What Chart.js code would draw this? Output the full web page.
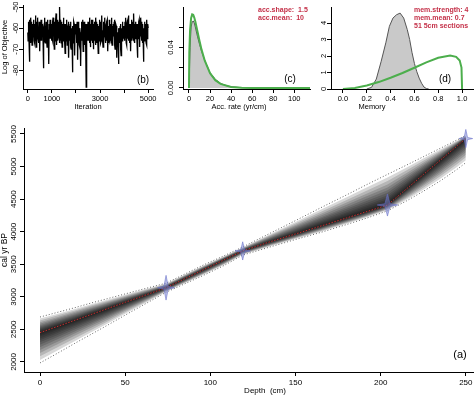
<!DOCTYPE html>
<html>
<head>
<meta charset="utf-8">
<script src="https://cdn.jsdelivr.net/npm/chart.js@4.4.1/dist/chart.umd.min.js"></script>
<style>
html, body { margin: 0; padding: 0; background: #fff; }
#wrap { position: relative; width: 474px; height: 397px; overflow: hidden; }
#wrap canvas { position: absolute; left: 0; top: 0; }
</style>
</head>
<body>
<div id="wrap">
  <canvas id="mainChart" width="474" height="397"></canvas>
  <canvas id="traceChart" width="474" height="397"></canvas>
  <canvas id="accChart" width="474" height="397"></canvas>
  <canvas id="memChart" width="474" height="397"></canvas>
</div>
<script>
// ---- (a) age-depth model ----
const depths   = [0, 10, 20, 30, 40, 50, 60, 74, 85, 96, 108, 119, 135, 150, 165, 180, 192, 204, 215, 225, 235, 245, 250];
const meanAge  = [2450, 2543, 2636, 2729, 2823, 2916, 3009, 3140, 3278, 3417, 3567, 3705, 3845, 3965, 4088, 4211, 4310, 4410, 4654, 4876, 5097, 5319, 5430];
const upperAge = [2690, 2760, 2830, 2905, 2975, 3045, 3115, 3210, 3350, 3490, 3630, 3765, 3975, 4170, 4370, 4565, 4725, 4880, 5020, 5150, 5280, 5410, 5480];
const lowerAge = [1985, 2130, 2280, 2425, 2570, 2720, 2865, 3070, 3200, 3330, 3480, 3640, 3765, 3880, 3990, 4110, 4210, 4320, 4470, 4620, 4780, 4960, 5060];

const dateDepths   = [74, 119, 204, 250];
const dateAges     = [3140, 3705, 4410, 5430];
const dateAgeErr   = [190, 140, 170, 140];
const dateDepthErr = [5, 4.5, 6, 4];

const depthTicks = [0, 50, 100, 150, 200, 250];
const ageTicks   = [2000, 2500, 3000, 3500, 4000, 4500, 5000, 5500];

// ---- (b) MCMC trace, one value every 12.5 iterations ----
const iterStep = 12.5;
const logObjective = [
  -62,-66,-57,-64,-66,-56,-76,-58,-60,-67,-55,-63,-64,-57,-68,-59,-58,-65,-61,-56,
  -56,-66,-67,-58,-63,-66,-54,-62,-69,-57,-60,-65,-58,-55,-65,-63,-62,-67,-57,-61,
  -71,-58,-60,-66,-56,-64,-66,-57,-64,-62,-58,-68,-79,-60,-61,-56,-55,-66,-67,-59,
  -63,-57,-59,-66,-69,-56,-57,-63,-62,-68,-77,-58,-60,-65,-56,-62,-65,-57,-61,-66,
  -58,-65,-66,-57,-55,-64,-63,-58,-70,-60,-57,-66,-61,-56,-53,-62,-68,-57,-60,-66,
  -56,-63,-64,-57,-59,-67,-50,-61,-66,-56,-62,-67,-57,-63,-69,-58,-61,-66,-55,-64,
  -65,-58,-60,-67,-72,-59,-58,-66,-63,-57,-56,-68,-67,-60,-61,-57,-74,-63,-59,-66,
  -64,-58,-57,-69,-70,-60,-62,-65,-81,-59,-60,-67,-66,-57,-58,-70,-73,-61,-63,-58,
  -61,-58,-67,-60,-57,-66,-75,-61,-63,-57,-59,-68,-69,-60,-62,-65,-78,-62,-60,-57,
  -66,-59,-56,-64,-71,-60,-64,-57,-61,-67,-68,-59,-58,-70,-88,-63,-65,-58,-60,-66,
  -57,-65,-66,-58,-62,-67,-55,-63,-69,-58,-60,-66,-58,-56,-64,-67,-56,-62,-70,-58,
  -61,-66,-59,-57,-65,-68,-55,-62,-67,-57,-62,-66,-58,-64,-72,-59,-60,-66,-56,-63,
  -63,-57,-58,-67,-66,-56,-54,-63,-61,-66,-69,-58,-57,-65,-62,-56,-55,-64,-67,-59,
  -60,-66,-64,-57,-56,-65,-71,-60,-59,-67,-62,-56,-57,-66,-65,-58,-60,-67,-55,-63,
  -68,-59,-61,-66,-58,-63,-64,-57,-56,-68,-70,-61,-63,-58,-59,-69,-74,-62,-62,-66,
  -66,-60,-77,-63,-60,-67,-64,-59,-58,-70,-73,-60,-62,-66,-57,-64,-66,-59,-60,-65,
  -59,-66,-65,-57,-55,-64,-62,-67,-68,-58,-57,-65,-61,-56,-54,-63,-66,-58,-60,-67,
  -58,-64,-71,-59,-62,-66,-56,-63,-64,-57,-59,-66,-53,-61,-67,-58,-61,-65,-57,-63,
  -65,-58,-60,-67,-74,-61,-58,-65,-63,-57,-56,-66,-69,-59,-61,-64,-55,-62,-66,-57,
  -62,-67,-58,-63,-76,-61,-60,-66,-57,-64,-64,-58,-59,-67,-68,-60,-56,-65,-62,-58,
  -60
];
const iterTicks = [0, 1000, 2000, 3000, 4000, 5000];
const objTicks  = [-80, -70, -60, -50];

// ---- (c) accumulation rate: posterior (grey) and prior (green) ----
const accPostX  = [0, 0.5, 1, 2, 3, 4, 5, 6, 8, 10, 12, 15, 20, 25, 30, 35, 40, 50, 60];
const accPostY  = [0, 0.02, 0.04, 0.06, 0.065, 0.066, 0.064, 0.06, 0.051, 0.043, 0.036, 0.027, 0.015, 0.0085, 0.0045, 0.0025, 0.0012, 0.0003, 0];
const accPriorX = [0, 0.3, 1, 2, 3, 4, 5, 6, 8, 10, 12, 15, 20, 25, 30, 40, 50, 60, 80, 100, 115];
const accPriorY = [0, 0.035, 0.0565, 0.0687, 0.0725, 0.072, 0.0693, 0.0654, 0.0559, 0.0463, 0.0375, 0.0268, 0.0146, 0.0077, 0.004, 0.001, 0.0003, 0, 0, 0, 0];
const accXTicks = [0, 20, 40, 60, 80, 100];
const accYTicks = [0, 0.02, 0.04, 0.06];

// ---- (d) memory: posterior (grey) and prior (green) ----
const memPostX  = [0.2, 0.24, 0.28, 0.32, 0.36, 0.39, 0.42, 0.45, 0.48, 0.51, 0.54, 0.56, 0.58, 0.6, 0.62, 0.64, 0.66, 0.68, 0.7, 0.72];
const memPostY  = [0, 0.1, 0.6, 1.65, 2.8, 3.8, 4.3, 4.5, 4.6, 4.3, 3.6, 3.0, 2.2, 1.55, 1.05, 0.66, 0.35, 0.12, 0.03, 0];
const memPriorX = [0, 0.1, 0.2, 0.3, 0.4, 0.5, 0.6, 0.7, 0.8, 0.9, 0.95, 0.98, 0.995, 1.0];
const memPriorY = [0, 0.06, 0.21, 0.42, 0.68, 0.97, 1.29, 1.61, 1.89, 2.03, 1.95, 1.72, 1.3, 0];
const memXTicks = [0, 0.2, 0.4, 0.6, 0.8, 1.0];
const memYTicks = [0, 1, 2, 3, 4];

const FONT = "'Liberation Sans', Arial, sans-serif";
const RED = '#c43048';

function pts(xs, ys) {
    return xs.map((x, i) => ({ x: x, y: ys[i] }));
}

// plugin: rotated y tick labels (R style) and free text
const figText = {
    id: 'figText',
    afterDraw(chart, args, opts) {
        const ctx = chart.ctx;
        const ys = chart.scales.y;
        ctx.save();
        ctx.fillStyle = '#000';
        ctx.textAlign = 'center';
        ctx.textBaseline = 'middle';
        if (opts.yLabelX != null) {
            ctx.font = opts.yLabelFont;
            ys.ticks.forEach(t => {
                if (!t.label) return;
                const py = ys.getPixelForValue(t.value);
                ctx.save();
                ctx.translate(opts.yLabelX, py);
                ctx.rotate(-Math.PI / 2);
                ctx.fillText(t.label, 0, 0);
                ctx.restore();
            });
        }
        (opts.items || []).forEach(it => {
            ctx.save();
            ctx.font = it.font;
            ctx.fillStyle = it.color || '#000';
            ctx.textAlign = it.align || 'center';
            ctx.textBaseline = 'middle';
            ctx.translate(it.x, it.y);
            if (it.rotate) ctx.rotate(it.rotate);
            ctx.fillText(it.text, 0, 0);
            ctx.restore();
        });
        ctx.restore();
    }
};
Chart.register(figText);

// R-like axis: L box, outward ticks, fixed thickness
function axis(horizontal, min, max, tickVals, size, fontSize, callback) {
    return {
        type: 'linear',
        min: min,
        max: max,
        border: { display: true, color: '#000', width: 1 },
        grid: { display: true, drawOnChartArea: false, drawTicks: true, tickLength: 4, color: '#000', lineWidth: 1 },
        ticks: {
            display: horizontal,
            autoSkip: false,
            maxRotation: 0,
            minRotation: 0,
            padding: horizontal ? (fontSize >= 8 ? 2 : 1) : 0,
            color: '#000',
            font: { family: FONT, size: fontSize },
            callback: callback || (v => String(v))
        },
        afterBuildTicks: s => { s.ticks = tickVals.map(v => ({ value: v })); },
        afterFit: s => {
            if (horizontal) s.height = size; else s.width = size;
            s.paddingLeft = 0; s.paddingRight = 0; s.paddingTop = 0; s.paddingBottom = 0;
        }
    };
}

function baseOptions(padding, xAxis, yAxis, textOpts) {
    return {
        responsive: false,
        animation: false,
        events: [],
        layout: { padding: padding },
        elements: { line: { tension: 0 }, point: { radius: 0 } },
        scales: { x: xAxis, y: yAxis },
        plugins: { legend: { display: false }, tooltip: { enabled: false }, figText: textOpts }
    };
}

// ---------- (a) main panel ----------
function createMainChart() {
    const datasets = [];
    // grey-scale shading: nested translucent bands around the mean
    const shadeLevels = [0.9, 0.78, 0.67, 0.57, 0.48, 0.4, 0.32, 0.25, 0.19, 0.13, 0.08, 0.04];
    shadeLevels.forEach(f => {
        datasets.push({
            data: depths.map((d, i) => ({ x: d, y: meanAge[i] + f * (upperAge[i] - meanAge[i]) })),
            borderWidth: 0, fill: false, order: 10
        });
        datasets.push({
            data: depths.map((d, i) => ({ x: d, y: meanAge[i] - f * (meanAge[i] - lowerAge[i]) })),
            borderWidth: 0, fill: '-1', backgroundColor: 'rgba(0,0,0,0.155)', order: 10
        });
    });
    datasets.push({ data: pts(depths, upperAge), borderColor: '#666', borderWidth: 1, borderDash: [1, 2], fill: false, order: 5 });
    datasets.push({ data: pts(depths, lowerAge), borderColor: '#666', borderWidth: 1, borderDash: [1, 2], fill: false, order: 5 });
    datasets.push({ data: pts(depths, meanAge), borderColor: 'rgba(205,45,45,0.95)', borderWidth: 1, borderDash: [1.5, 1.5], fill: false, order: 4 });

    // calibrated dates as blue crosses
    dateDepths.forEach((d, j) => {
        const a = dateAges[j], h = dateAgeErr[j], w = dateDepthErr[j];
        datasets.push({
            data: [{ x: d - w, y: a }, { x: d - 0.25 * w, y: a + 0.12 * h }, { x: d, y: a + h }, { x: d + 0.25 * w, y: a + 0.12 * h }, { x: d + w, y: a }],
            borderColor: 'rgba(100,110,200,0.55)', borderWidth: 1, fill: false, order: 1
        });
        datasets.push({
            data: [{ x: d - w, y: a }, { x: d - 0.25 * w, y: a - 0.12 * h }, { x: d, y: a - h }, { x: d + 0.25 * w, y: a - 0.12 * h }, { x: d + w, y: a }],
            borderColor: 'rgba(100,110,200,0.55)', borderWidth: 1, fill: '-1', backgroundColor: 'rgba(120,130,210,0.5)', order: 1
        });
    });

    const ctx = document.getElementById('mainChart').getContext('2d');
    return new Chart(ctx, {
        type: 'line',
        data: { datasets: datasets },
        options: baseOptions(
            { left: 0, right: 0, top: 128, bottom: 5 },
            axis(true, -9.4, 254.8, depthTicks, 20, 8),
            axis(false, 1846, 5592, ageTicks, 24, 8),
            {
                yLabelX: 14, yLabelFont: '8px ' + FONT,
                items: [
                    { text: 'cal yr BP', x: 5, y: 250, rotate: -Math.PI / 2, font: '8.5px ' + FONT },
                    { text: 'Depth  (cm)', x: 265, y: 391, font: '8px ' + FONT },
                    { text: '(a)', x: 460, y: 355, font: '11px ' + FONT }
                ]
            })
    });
}

// ---------- (b) trace ----------
function createTraceChart() {
    const ctx = document.getElementById('traceChart').getContext('2d');
    return new Chart(ctx, {
        type: 'line',
        data: {
            datasets: [{
                data: logObjective.map((v, i) => ({ x: i * iterStep, y: v })),
                borderColor: '#000', borderWidth: 1.3, fill: false
            }]
        },
        options: baseOptions(
            { left: 0, right: 321, top: 5, bottom: 288 },
            axis(true, -200, 5200, iterTicks, 20, 7.5, v => (v === 2000 || v === 4000) ? '' : String(v)),
            axis(false, -88.9, -49, objTicks, 23, 7.5),
            {
                yLabelX: 16, yLabelFont: '7.5px ' + FONT,
                items: [
                    { text: 'Log of Objective', x: 5, y: 47, rotate: -Math.PI / 2, font: '7.5px ' + FONT },
                    { text: 'Iteration', x: 88, y: 107, font: '7.5px ' + FONT },
                    { text: '(b)', x: 143, y: 80, font: '10px ' + FONT }
                ]
            })
    });
}

// ---------- (c) accumulation rate ----------
function createAccChart() {
    const ctx = document.getElementById('accChart').getContext('2d');
    return new Chart(ctx, {
        type: 'line',
        data: {
            datasets: [
                { data: pts(accPriorX, accPriorY), borderColor: '#4cae4c', borderWidth: 2, fill: false, order: 1 },
                { data: pts(accPostX, accPostY), borderColor: '#555', borderWidth: 1, fill: 'origin', backgroundColor: '#c9c9c9', order: 2 }
            ]
        },
        options: baseOptions(
            { left: 163, right: 164, top: 7, bottom: 288 },
            axis(true, -5.7, 115, accXTicks, 20, 7.5),
            axis(false, -0.001, 0.0797, accYTicks, 20, 7.5, v => (v === 0 || v === 0.04) ? v.toFixed(2) : ''),
            {
                yLabelX: 171, yLabelFont: '7.5px ' + FONT,
                items: [
                    { text: 'Acc. rate (yr/cm)', x: 239, y: 107, font: '7.5px ' + FONT },
                    { text: '(c)', x: 290, y: 79, font: '10px ' + FONT },
                    { text: 'acc.shape:  1.5', x: 258, y: 10, align: 'left', color: RED, font: 'bold 7px ' + FONT },
                    { text: 'acc.mean:  10', x: 258, y: 18, align: 'left', color: RED, font: 'bold 7px ' + FONT }
                ]
            })
    });
}

// ---------- (d) memory ----------
function createMemChart() {
    const ctx = document.getElementById('memChart').getContext('2d');
    return new Chart(ctx, {
        type: 'line',
        data: {
            datasets: [
                { data: pts(memPriorX, memPriorY), borderColor: '#4cae4c', borderWidth: 2, fill: false, order: 1 },
                { data: pts(memPostX, memPostY), borderColor: '#555', borderWidth: 1, fill: 'origin', backgroundColor: '#c9c9c9', order: 2 }
            ]
        },
        options: baseOptions(
            { left: 311, right: 0, top: 7, bottom: 288 },
            axis(true, -0.1, 1.1, memXTicks, 20, 7.5, v => v.toFixed(1)),
            axis(false, 0, 4.97, memYTicks, 20, 7.5),
            {
                yLabelX: 324, yLabelFont: '7.5px ' + FONT,
                items: [
                    { text: 'Memory', x: 372, y: 107, font: '7.5px ' + FONT },
                    { text: '(d)', x: 445, y: 79, font: '10px ' + FONT },
                    { text: 'mem.strength: 4', x: 414, y: 10, align: 'left', color: RED, font: 'bold 7px ' + FONT },
                    { text: 'mem.mean: 0.7', x: 414, y: 18, align: 'left', color: RED, font: 'bold 7px ' + FONT },
                    { text: '51 5cm sections', x: 414, y: 26, align: 'left', color: RED, font: 'bold 7px ' + FONT }
                ]
            })
    });
}

createMainChart();
createTraceChart();
createAccChart();
createMemChart();
</script>
</body>
</html>
